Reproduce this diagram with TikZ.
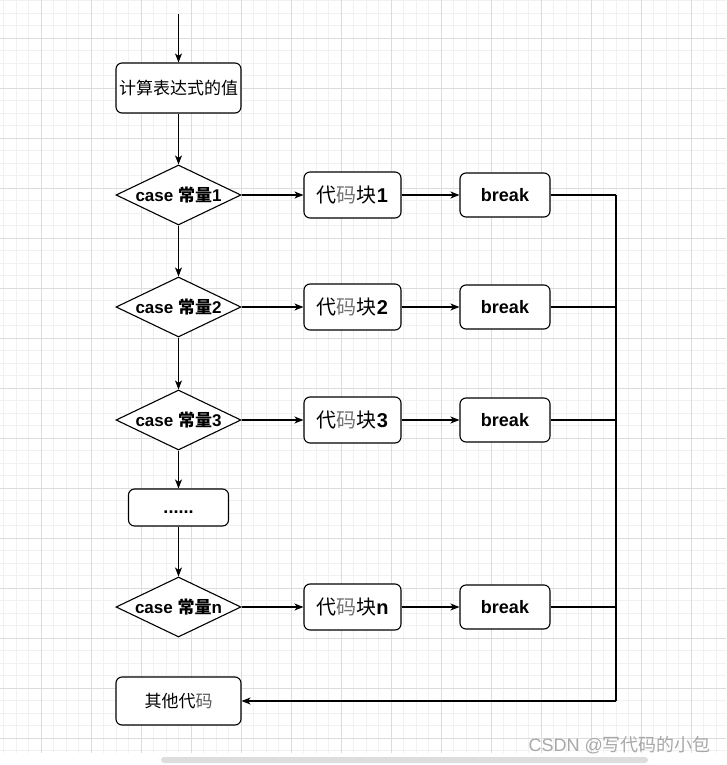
\documentclass[tikz,border=0pt]{standalone}
\usepackage{fontspec}
\setmainfont{Liberation Sans}
\newfontfamily\cjk{Noto Sans CJK SC}
\usetikzlibrary{shapes.geometric,arrows.meta}
\definecolor{gridminor}{HTML}{F1F1F1}
\definecolor{gridmajor}{HTML}{DCDCDC}
\definecolor{wmark}{HTML}{A8A8A8}
\definecolor{barcol}{HTML}{DDDDDD}
\tikzset{
  rbox/.style={draw=black, line width=1.1pt, rounded corners=6pt, fill=white, inner sep=0pt},
  dia/.style={draw=black, line width=1.1pt, diamond, aspect=2.08, fill=white, inner sep=0pt,
    minimum width=125pt, minimum height=60pt, font=\fontsize{17}{20}\selectfont\bfseries},
  arr/.style={line width=1.1pt, -{Stealth[length=9pt,width=7pt,inset=2.5pt]}},
  ln/.style={line width=1.1pt},
  lbl/.style={font=\fontsize{17}{20}\selectfont},
}
\begin{document}
\begin{tikzpicture}[x=1pt,y=-1pt]
\useasboundingbox (0,0) rectangle (726,765);
% grid
\foreach \i in {0,...,57} { \draw[gridminor, line width=0.7pt] ({3.5+12.5*\i},0) -- ({3.5+12.5*\i},753); }
\foreach \i in {0,...,60} { \draw[gridminor, line width=0.7pt] (0,{0.5+12.5*\i}) -- (726,{0.5+12.5*\i}); }
\foreach \i in {0,...,14} { \draw[gridmajor, line width=0.8pt] ({41+50*\i},0) -- ({41+50*\i},753); }
\foreach \i in {0,...,14} { \draw[gridmajor, line width=0.8pt] (0,{38+50*\i}) -- (726,{38+50*\i}); }
% scrollbar
\fill[barcol, rounded corners=3pt] (161,757) rectangle (648,763);

% nodes
\coordinate (top) at (178.5,14);
\node[rbox, minimum width=125pt, minimum height=50pt, lbl] (calc) at (178.5,88) {\cjk 计算表达式的值};
\node[dia] (d1) at (178.5,195) {case {\cjk 常量}1};
\node[dia] (d2) at (178.5,307) {case {\cjk 常量}2};
\node[dia] (d3) at (178.5,420) {case {\cjk 常量}3};
\node[rbox, minimum width=100pt, minimum height=37pt, text height=12pt, text depth=0pt, font=\fontsize{18}{20}\selectfont\bfseries] (dots) at (178.5,507.5) {......};
\node[dia] (dn) at (178.5,607) {case {\cjk 常量}n};
\node[rbox, minimum width=125pt, minimum height=48pt, lbl] (other) at (178.5,701) {{\cjk 其他代}{\cjk\color{black!65} 码}};

\foreach \r/\y/\t in {1/195/1, 2/307/2, 3/420/3, n/607/n} {
  \node[rbox, minimum width=97pt, minimum height=46pt, font=\fontsize{20}{23}\selectfont] (b\r) at (352.5,\y) {{\cjk 代}{\cjk\color{black!55}码}{\cjk 块}\textbf{\t}};
  \node[rbox, minimum width=90pt, minimum height=44pt, font=\fontsize{18}{21}\selectfont\bfseries] (k\r) at (505,\y) {break};
  \coordinate (r\r) at (616,\y);
}
\coordinate (rb) at (616,701);

% connectors
\draw[arr] (top) -- (calc);
\draw[arr] (calc) -- (d1);
\draw[arr] (d1) -- (d2);
\draw[arr] (d2) -- (d3);
\draw[arr] (d3) -- (dots);
\draw[arr] (dots) -- (dn);
\foreach \r in {1,2,3,n} {
  \draw[arr] (d\r.east) -- (b\r);
  \draw[arr] (b\r) -- (k\r);
  \draw[ln] (k\r) -- (r\r);
}
\draw[ln] (r1) -- (rb);
\draw[arr] (rb) -- (other);

% watermark
\node[anchor=east, text=wmark, font=\fontsize{18}{20}\selectfont, inner sep=0pt] (wm) at (711,745.5) {CSDN @{\cjk 写代码的小包}};
\end{tikzpicture}
\end{document}
